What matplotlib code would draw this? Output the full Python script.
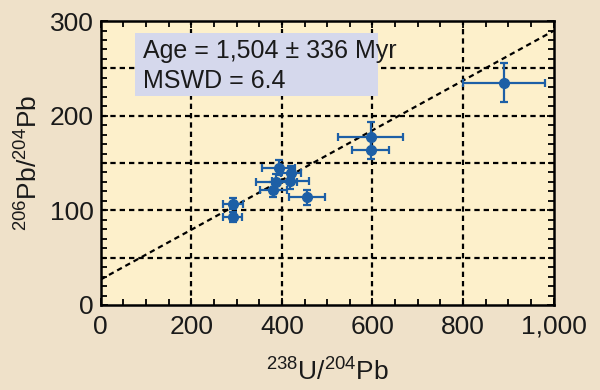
import matplotlib
matplotlib.use("Agg")
import matplotlib.pyplot as plt
from matplotlib.ticker import MultipleLocator, FixedLocator
from matplotlib.patches import Rectangle
import numpy as np

# Data
u238_pb204 = [291, 292, 381, 388, 393, 419, 421, 455, 596, 596, 890]
pb206_pb204 = [93, 107, 122, 130, 145, 131, 139, 114, 177, 164, 235]
x_err = [21, 22, 30, 46, 37, 40, 22, 40, 71, 41, 91]
y_err = [5, 6, 8, 8, 8, 8, 8, 8, 16, 10, 21]
fit_intercept = 27
fit_slope = 0.2626
x_ticks = [0, 200, 400, 600, 800, 1000]
x_tick_labels = ["0", "200", "400", "600", "800", "1,000"]
y_ticks = [0, 100, 200, 300]
grid_x = [200, 400, 600, 800]
grid_y = [50, 100, 150, 200, 250]
annot_lines = ["Age = 1,504 \u00b1 336 Myr", "MSWD = 6.4"]

plt.rcParams['font.family'] = ['Liberation Sans', 'DejaVu Sans']
plt.rcParams['mathtext.fontset'] = 'custom'
plt.rcParams['mathtext.rm'] = 'Liberation Sans'
plt.rcParams['mathtext.default'] = 'regular'

fig_bg = '#efe1c9'
ax_bg = '#fdf0cb'
blue = '#1d5fa6'
txt = '#1a1a1a'

fig = plt.figure(figsize=(6, 3.9), dpi=100, facecolor=fig_bg)
ax = fig.add_axes([0.168, 0.218, 0.7545, 0.728])
ax.set_facecolor(ax_bg)

dash = (0, (2.4, 1.8))
for gx in grid_x:
    ax.axvline(gx, color='black', lw=1.6, ls=dash, zorder=1)
for gy in grid_y:
    ax.axhline(gy, color='black', lw=1.6, ls=dash, zorder=1)

xs = np.array([0, 1000])
ax.plot(xs, fit_intercept + fit_slope * xs, color='black', lw=1.6,
        ls=dash, zorder=2)

ax.errorbar(u238_pb204, pb206_pb204, xerr=x_err, yerr=y_err, fmt='o',
            color=blue, ms=7, elinewidth=1.6, capsize=3, capthick=1.6, zorder=4)

ax.set_xlim(0, 1000)
ax.set_ylim(0, 300)
ax.xaxis.set_major_locator(FixedLocator(x_ticks))
ax.set_xticklabels(x_tick_labels)
ax.yaxis.set_major_locator(FixedLocator(y_ticks))
ax.xaxis.set_minor_locator(MultipleLocator(50))
ax.yaxis.set_minor_locator(MultipleLocator(10))
ax.tick_params(which='both', direction='in', top=True, right=True,
               labelsize=19, colors='black', labelcolor=txt, width=1.3)
ax.tick_params(which='major', length=5)
ax.tick_params(axis='x', which='major', pad=7)
ax.tick_params(axis='y', which='major', pad=5)
ax.tick_params(which='minor', length=4)
for s in ax.spines.values():
    s.set_linewidth(1.8)

ax.set_xlabel(r'$^{238}$U/$^{204}$Pb', fontsize=19, labelpad=14, color=txt)
ax.set_ylabel(r'$^{206}$Pb/$^{204}$Pb', fontsize=19, labelpad=5, color=txt)

ax.add_patch(Rectangle((0.075, 0.736), 0.537, 0.222, transform=ax.transAxes,
                       facecolor='#d5d8ec', edgecolor='none', zorder=3))
ax.text(0.093, 0.895, annot_lines[0], transform=ax.transAxes, fontsize=18,
        va='center', ha='left', zorder=5, color=txt)
ax.text(0.093, 0.79, annot_lines[1], transform=ax.transAxes, fontsize=18,
        va='center', ha='left', zorder=5, color=txt)

fig.savefig('out.png', dpi=100, facecolor=fig_bg)
